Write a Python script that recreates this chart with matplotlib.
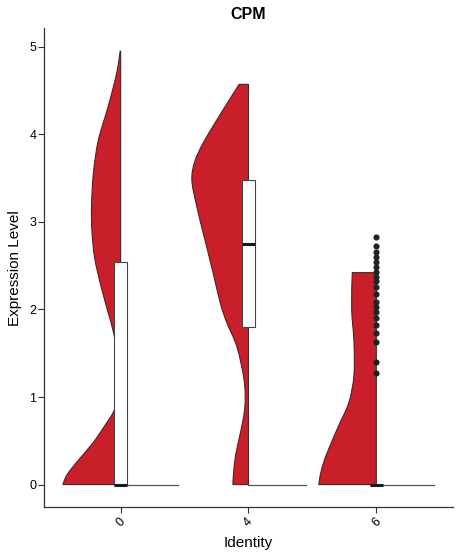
import numpy as np
import matplotlib
matplotlib.use("Agg")
from matplotlib import pyplot as plt
from matplotlib.patches import Rectangle, PathPatch
from matplotlib.path import Path

plt.rcParams['font.family'] = ['Liberation Sans', 'DejaVu Sans']

identities = ["0", "4", "6"]

# half-violin profiles (level, half width in category units)
levels_0 = [0.0, 0.05, 0.13, 0.28, 0.47, 0.66, 0.85, 1.05, 1.25, 1.45, 1.73, 2.0, 2.3, 2.6, 2.9, 3.17, 3.55, 3.93, 4.32, 4.70, 4.95]
widths_0 = [0.452, 0.44, 0.412, 0.33, 0.22, 0.13, 0.05, 0.023, 0.016, 0.023, 0.055, 0.105, 0.16, 0.205, 0.225, 0.228, 0.214, 0.175, 0.097, 0.031, 0.004]

levels_4 = [0.0, 0.13, 0.35, 0.62, 0.89, 1.19, 1.57, 1.85, 2.07, 2.45, 2.83, 3.21, 3.48, 3.69, 3.92, 4.30, 4.57]
widths_4 = [0.122, 0.117, 0.099, 0.059, 0.028, 0.034, 0.09, 0.17, 0.22, 0.282, 0.347, 0.41, 0.443, 0.42, 0.347, 0.190, 0.073]

levels_6 = [0.0, 0.05, 0.18, 0.37, 0.68, 0.94, 1.25, 1.63, 2.01, 2.42]
widths_6 = [0.45, 0.445, 0.427, 0.383, 0.292, 0.214, 0.175, 0.175, 0.193, 0.188]

# box stats: lower quartile, median, upper quartile
box_lower = [0.0, 1.80, 0.0]
box_median = [0.0, 2.75, 0.0]
box_upper = [2.54, 3.48, 0.0]

# outliers for identity 6
outliers_6 = [2.83, 2.72, 2.66, 2.60, 2.54, 2.49, 2.43, 2.37, 2.32, 2.26, 2.18, 2.09,
              2.03, 1.97, 1.90, 1.82, 1.73, 1.63, 1.40, 1.27]

red = "#C91F2A"


def half_violin_path(pos, lv, wd):
    # smooth outline (catmull-rom -> bezier) through the read points
    pts = np.column_stack([pos - np.array(wd), np.array(lv)])
    verts = [(pos, lv[0]), tuple(pts[0])]
    codes = [Path.MOVETO, Path.LINETO]
    n = len(pts)
    for k in range(n - 1):
        p0 = pts[max(k - 1, 0)]
        p1 = pts[k]
        p2 = pts[k + 1]
        p3 = pts[min(k + 2, n - 1)]
        c1 = p1 + (p2 - p0) / 6.0
        c2 = p2 - (p3 - p1) / 6.0
        verts += [tuple(c1), tuple(c2), tuple(p2)]
        codes += [Path.CURVE4] * 3
    verts += [(pos, lv[-1]), (pos, lv[0])]
    codes += [Path.LINETO, Path.CLOSEPOLY]
    return Path(verts, codes)


fig = plt.figure(figsize=(4.74, 5.6), dpi=100)
ax = fig.add_axes([0.0928, 0.094, 0.8629, 0.8555])

profiles = [(levels_0, widths_0), (levels_4, widths_4), (levels_6, widths_6)]
for i, (lv, wd) in enumerate(profiles):
    pos = i + 1
    ax.add_patch(PathPatch(half_violin_path(pos, lv, wd), facecolor=red, edgecolor="#3b2b2b",
                           linewidth=0.8, zorder=2))
    # flat right half at zero
    ax.plot([pos, pos + 0.45], [0, 0], color="#555555", linewidth=0.9, zorder=2)

for i in range(len(identities)):
    pos = i + 1
    h = box_upper[i] - box_lower[i]
    ax.add_patch(Rectangle((pos - 0.05, box_lower[i]), 0.1, h, facecolor="white",
                           edgecolor="#444444", linewidth=0.8, zorder=3))
    ax.plot([pos - 0.05, pos + 0.05], [box_median[i], box_median[i]], color="#1a1a1a",
            linewidth=2.2, solid_capstyle="butt", zorder=4)

ax.plot([3] * len(outliers_6), outliers_6, "o", color="#222222", markersize=3.4, zorder=5)

ax.set_xlim(0.4, 3.6)
ax.set_ylim(-0.26, 5.21)
ax.set_xticks([1, 2, 3])
ax.set_xticklabels(identities, rotation=45, ha="center", va="top")
ax.set_yticks([0, 1, 2, 3, 4, 5])
ax.tick_params(axis="both", labelsize=9, length=4, width=0.8, color="#333333", pad=1.5)
ax.tick_params(axis="x", pad=2)

for side in ["top", "right"]:
    ax.spines[side].set_visible(False)
for side in ["left", "bottom"]:
    ax.spines[side].set_color("#333333")
    ax.spines[side].set_linewidth(0.9)

ax.set_xlabel("Identity", fontsize=11, labelpad=5)
ax.set_ylabel("Expression Level", fontsize=11, labelpad=5)
ax.set_title("CPM", fontsize=11.5, fontweight="bold", pad=7)

plt.savefig("out.png", dpi=100)
